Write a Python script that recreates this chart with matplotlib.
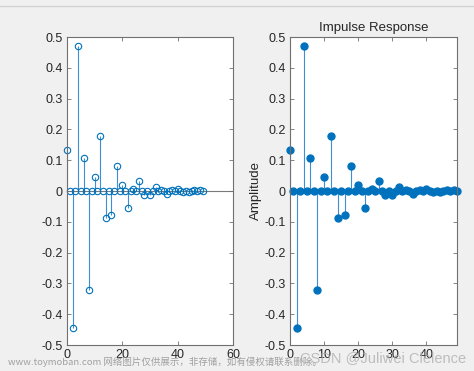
import matplotlib
matplotlib.use("Agg")
import matplotlib.pyplot as plt
from matplotlib.lines import Line2D

# impulse response samples, n = 0..49 (odd samples are zero)
n = list(range(50))
h = [
    0.133, 0.0, -0.445, 0.0, 0.470, 0.0, 0.107, 0.0, -0.322, 0.0,
    0.046, 0.0, 0.177, 0.0, -0.089, 0.0, -0.078, 0.0, 0.080, 0.0,
    0.021, 0.0, -0.055, 0.0, 0.006, 0.0, 0.031, 0.0, -0.012, 0.0,
    -0.012, 0.0, 0.014, 0.0, 0.004, 0.0, -0.010, 0.0, 0.002, 0.0,
    0.006, 0.0, -0.003, 0.0, -0.002, 0.0, 0.003, 0.0, 0.002, 0.0,
]

y_ticks = [-0.5, -0.4, -0.3, -0.2, -0.1, 0, 0.1, 0.2, 0.3, 0.4, 0.5]
y_labels = ["-0.5", "-0.4", "-0.3", "-0.2", "-0.1", "0",
            "0.1", "0.2", "0.3", "0.4", "0.5"]
left_xticks = [0, 20, 40, 60]
right_xticks = [0, 10, 20, 30, 40]

BLUE = "#0072BD"
plt.rcParams["font.family"] = ["Liberation Sans", "DejaVu Sans"]


def style_axes(ax, xticks, xlim):
    ax.set_xlim(*xlim)
    ax.set_ylim(-0.5, 0.5)
    ax.set_xticks(xticks)
    ax.set_xticklabels([str(t) for t in xticks])
    ax.set_yticks(y_ticks)
    ax.set_yticklabels(y_labels)
    ax.tick_params(direction="in", length=3, width=0.6, colors="#707070",
                   labelcolor="#262626", labelsize=9,
                   top=True, right=True, pad=3)
    for sp in ax.spines.values():
        sp.set_color("#707070")
        sp.set_linewidth(0.8)


fig = plt.figure(figsize=(4.74, 3.71), dpi=100, facecolor="#f0f0f0")

# toolbar separator line at the top of the window
fig.add_artist(Line2D([0, 1], [1 - 6 / 371, 1 - 6 / 371], color="#d4d4d4", lw=1))

ax1 = fig.add_axes([67 / 474, 26 / 371, 166 / 474, 308 / 371])
ml, sl, bl = ax1.stem(n, h, basefmt=" ")
ml.set_markerfacecolor("none")
ml.set_markeredgecolor(BLUE)
ml.set_markersize(4.6)
ml.set_markeredgewidth(0.8)
ml.set_clip_on(False)
sl.set_color("#3d8fd1")
sl.set_linewidth(0.8)
ax1.axhline(0, color="#7a7a7a", lw=0.8, zorder=1)
style_axes(ax1, left_xticks, (0, 60))

ax2 = fig.add_axes([290 / 474, 26 / 371, 167 / 474, 308 / 371])
ml2, sl2, bl2 = ax2.stem(n, h, basefmt=" ")
ml2.set_markerfacecolor(BLUE)
ml2.set_markeredgecolor(BLUE)
ml2.set_markersize(5)
ml2.set_clip_on(False)
sl2.set_color("#3d8fd1")
sl2.set_linewidth(0.8)
ax2.axhline(0, color="#7a7a7a", lw=0.8, zorder=1)
style_axes(ax2, right_xticks, (0, 49))
ax2.set_title("Impulse Response", fontsize=9.5, color="#262626", pad=4)
ax2.set_ylabel("Amplitude", fontsize=9.5, color="#262626", labelpad=2)

# watermarks
fig.text(8 / 474, 1 - 362 / 371,
         "www.toymoban.com 网络图片仅供展示，非存储，如有侵权请联系删除。",
         fontsize=6.8, color="#8c8c8c", alpha=0.8, va="center",
         family=["Noto Sans CJK SC", "DejaVu Sans"])
fig.text(300 / 474, 1 - 358 / 371, "CSDN @Juliwei Clelence",
         fontsize=10.5, color="#b0b0b0", alpha=0.8, va="center")

fig.savefig("out.png", dpi=100, facecolor=fig.get_facecolor())
